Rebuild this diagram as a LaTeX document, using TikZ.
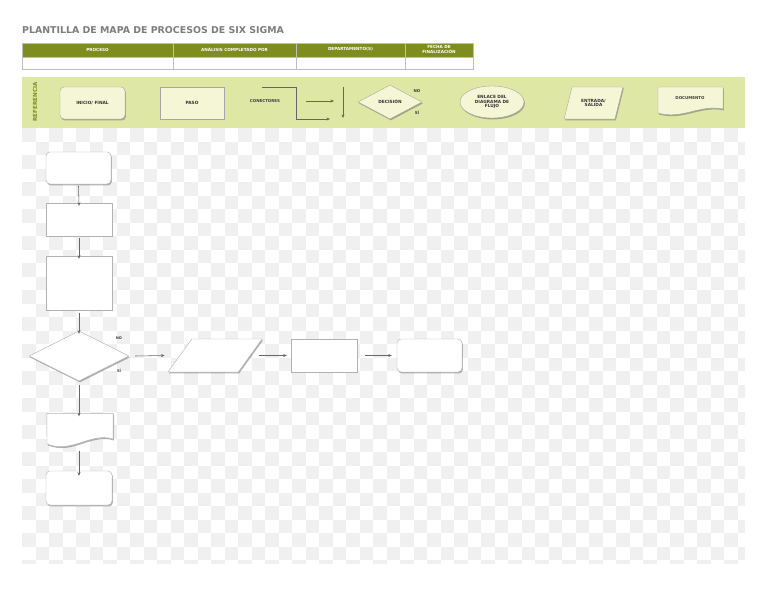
\documentclass[tikz,border=0pt]{standalone}
\usepackage{fontspec}
\setmainfont{DejaVu Sans}
\usetikzlibrary{shapes.geometric,shadows,arrows.meta}
\definecolor{olivo}{RGB}{127,140,30}
\definecolor{banda}{RGB}{222,232,164}
\definecolor{crema}{RGB}{244,246,214}
\definecolor{cuadro}{RGB}{240,240,240}
\definecolor{titulo}{RGB}{125,125,125}
\tikzset{
	sombra/.style	= {drop shadow={shadow xshift=0.9pt, shadow yshift=-1.4pt, opacity=0.5, fill=black!60}},
	leyenda/.style	= {draw=black!35, fill=crema, sombra, font=\fontsize{4.3}{4.8}\selectfont\bfseries, text=black!80, align=center},
	caja/.style	= {draw=black!30, fill=white, sombra, inner sep=0pt},
	flecha/.style	= {draw=black!60, line width=0.55pt, -{Stealth[length=3.6pt,width=3pt]}},
	cabecera/.style	= {font=\fontsize{4.2}{4.6}\selectfont\bfseries, text=white, align=center},
	etiqueta/.style	= {font=\fontsize{4}{4.5}\selectfont\bfseries, text=black!75}
}
\begin{document}
\begin{tikzpicture}[x=1pt,y=-1pt]
	\useasboundingbox (0,0) rectangle (768,594);
	% titulo
	\node (T) at (22, 30) [anchor=west, font=\fontsize{9.4}{10}\selectfont\bfseries, text=titulo, inner sep=0pt]	{PLANTILLA DE MAPA DE PROCESOS DE SIX SIGMA};
	% tabla
	\fill[olivo] (22,43) rectangle (473,57);
	\draw[black!25, line width=0.6pt] (22,43) rectangle (473,69);
	\draw[black!25, line width=0.6pt] (22,57) -- (473,57);
	\foreach \x in {173,296,405}
		\draw[black!25, line width=0.6pt] (\x,43) -- (\x,69);
	\node (C1) at ( 97.5, 49.5)	[cabecera]	{PROCESO};
	\node (C2) at (234.5, 49.5)	[cabecera]	{ANÁLISIS COMPLETADO POR};
	\node (C3) at (350.5, 49.5)	[cabecera]	{DEPARTAMENTO(S)};
	\node (C4) at (439, 49.5)	[cabecera]	{FECHA DE\\FINALIZACIÓN};
	% banda de referencia
	\fill[banda] (22,77) rectangle (745,128);
	\node (R) at (35, 102) [rotate=90, font=\fontsize{5.6}{6}\selectfont\bfseries, text=olivo]	{REFERENCIA};
	\node (L1) at ( 92.5, 103)	[leyenda, rounded corners=4pt, minimum width=65pt, minimum height=32pt]	{INICIO/ FINAL};
	\node (L2) at (192, 103)	[leyenda, minimum width=64pt, minimum height=32pt]	{PASO};
	\node (L3) at (265, 101)	[etiqueta]	{CONECTORES};
	\coordinate (K1) at (262, 87);
	\coordinate (K2) at (330, 119);
	\coordinate (K3) at (306, 101);
	\coordinate (K4) at (334, 101);
	\coordinate (K5) at (343, 87);
	\coordinate (K6) at (343, 118);
	\draw[flecha] (K1) -| (296,119) -- (K2);
	\draw[flecha] (K3) -- (K4);
	\draw[flecha] (K5) -- (K6);
	\node (L4) at (390, 102)	[leyenda, diamond, aspect=1.9, inner sep=0pt, minimum width=64pt, minimum height=34pt]	{DECISIÓN};
	\node (N1) at (417, 91)	[etiqueta]	{NO};
	\node (S1) at (417, 113)	[etiqueta]	{SÍ};
	\node (L5) at (492, 102)	[leyenda, ellipse, inner sep=0pt, minimum width=64pt, minimum height=32pt]	{ENLACE DEL\\DIAGRAMA DE\\FLUJO};
	\node (L6) at (593.5, 103)	[leyenda, trapezium, trapezium left angle=66, trapezium right angle=114, trapezium stretches=true, inner sep=2pt, minimum width=59pt, minimum height=32pt]	{ENTRADA/\\SALIDA};
	\filldraw[draw=black!35, fill=crema, sombra] (658,87) -- (723,87) -- (723,109) .. controls (700,104) and (682,120) .. (658,113) -- cycle;
	\node (L7) at (690, 98)	[etiqueta]	{DOCUMENTO};
	% cuadricula
	\begin{scope}
		\clip (22,128) rectangle (745,563);
		\fill[white] (22,128) rectangle (745,563);
		\foreach \i in {0,...,53}
			\foreach \j in {0,...,32} {
				\pgfmathtruncatemacro{\paridad}{mod(\i+\j,2)}
				\ifnum\paridad=0
					\fill[cuadro] (22+\i*13.5, 128+\j*13.5) rectangle ++(13.5,13.5);
				\fi
			}
	\end{scope}
	% diagrama
	\node (A) at (78.5, 168)	[caja, rounded corners=4pt, minimum width=65pt, minimum height=32pt]	{};
	\node (B) at (79, 219.5)	[caja, minimum width=66pt, minimum height=33pt]	{};
	\node (C) at (79, 283)	[caja, minimum width=66pt, minimum height=54pt]	{};
	\node (D) at (79, 356)	[caja, diamond, aspect=2, minimum width=100pt, minimum height=50pt]	{};
	\node (N2) at (119, 338)	[etiqueta, font=\fontsize{3.6}{4}\selectfont\bfseries]	{NO};
	\node (S2) at (119, 371)	[etiqueta, font=\fontsize{3.6}{4}\selectfont\bfseries]	{SÍ};
	\node (E) at (215, 355.5)	[caja, trapezium, trapezium left angle=63, trapezium right angle=117, trapezium stretches=true, inner sep=2pt, minimum width=94pt, minimum height=33pt]	{};
	\node (F) at (324, 355.5)	[caja, minimum width=66pt, minimum height=33pt]	{};
	\node (G) at (429.5, 355.5)	[caja, rounded corners=4pt, minimum width=65pt, minimum height=33pt]	{};
	\node (H) at (80, 430)	[minimum width=66pt, minimum height=33pt]	{};
	\filldraw[draw=black!30, fill=white, sombra] (H.north west) -- (H.north east) -- (113,439) .. controls (90,432) and (72,454) .. (47,444) -- cycle;
	\coordinate (H1) at (79, 451);
	\node (I) at (79, 488)	[caja, rounded corners=4pt, minimum width=66pt, minimum height=34pt]	{};
	\draw[flecha] ([yshift=-2pt]A.south) -- ([yshift=-3pt]B.north);
	\draw[flecha] ([yshift=-2pt]B.south) -- ([yshift=-3pt]C.north);
	\draw[flecha] ([yshift=-3pt]C.south) -- ([yshift=-3pt]D.north);
	\draw[flecha] ([xshift=6pt]D.east) -- ([xshift=-15pt]E.west);
	\draw[flecha] ([xshift=9pt]E.east) -- ([xshift=-4pt]F.west);
	\draw[flecha] ([xshift=8pt]F.east) -- ([xshift=-5pt]G.west);
	\draw[flecha] ([yshift=-4pt]D.south) -- ([xshift=-1pt,yshift=-3pt]H.north);
	\draw[flecha] (H1) -- ([yshift=-5pt]I.north);
\end{tikzpicture}
\end{document}
